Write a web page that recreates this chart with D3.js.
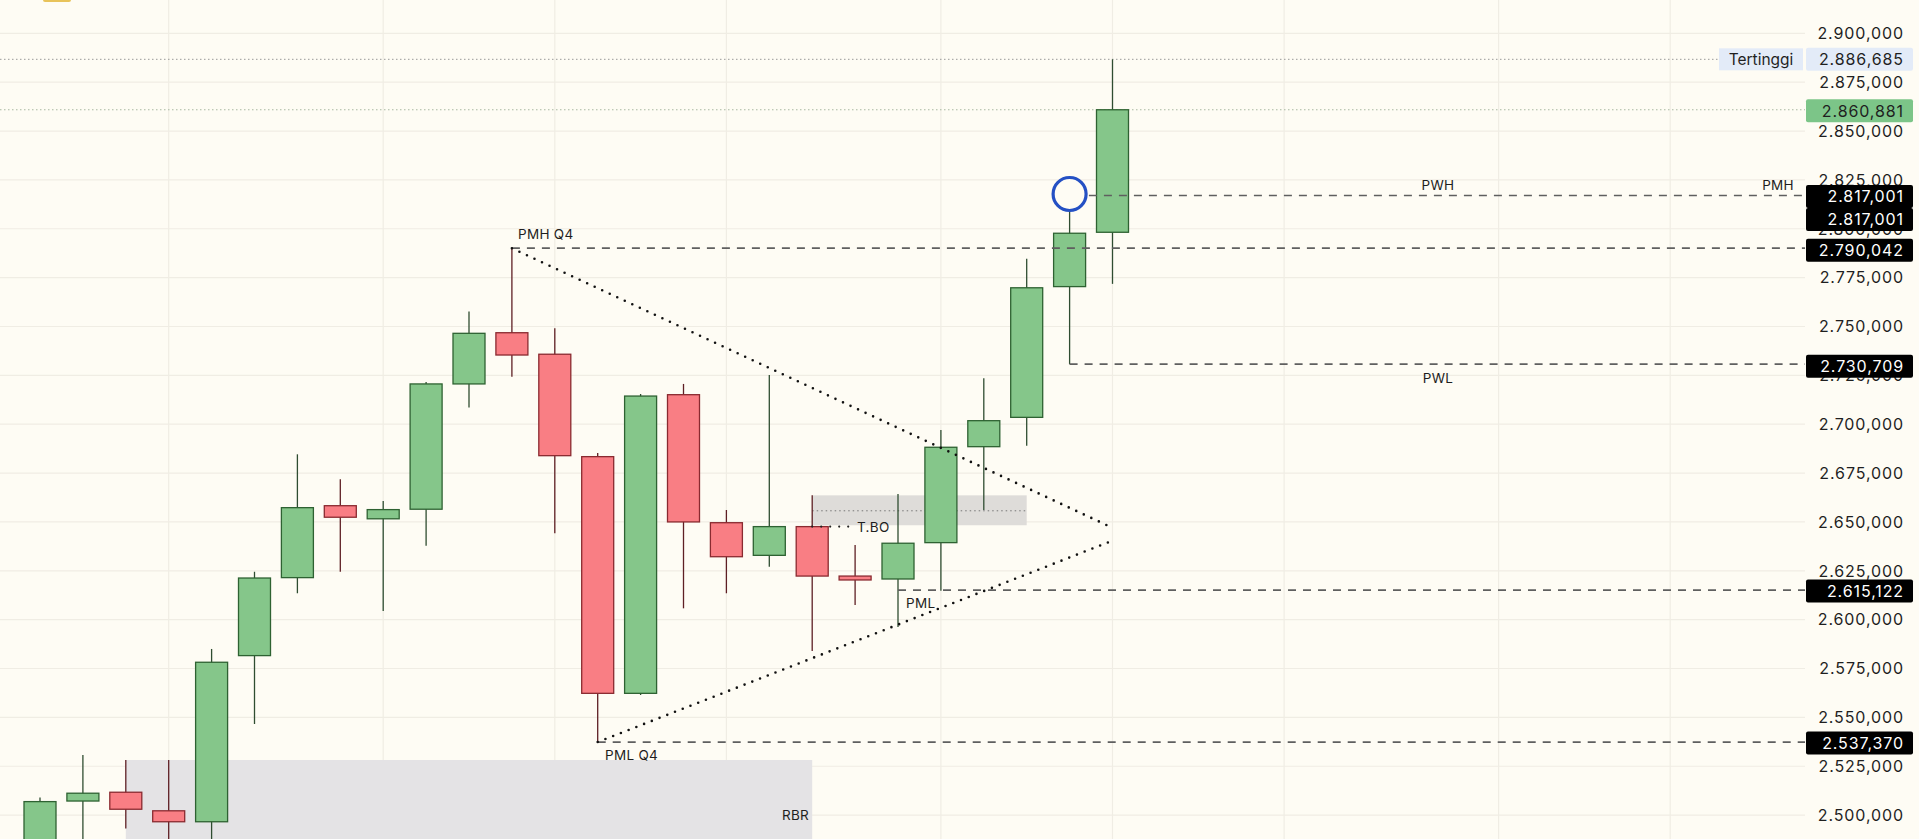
<!DOCTYPE html>
<html><head><meta charset="utf-8">
<script src="https://cdn.jsdelivr.net/npm/d3@7"></script>
<style>
html,body{margin:0;padding:0;background:#fefcf4;overflow:hidden}
svg{display:block}
text{font-family:Inter,"Noto Sans",sans-serif}
</style></head><body>
<svg id="c" width="1919" height="839"></svg>
<script>
// ---- data ----
const opens  = [2478,2507.2,2511.7,2502.2,2496.6,2581.6,2621.5,2658.3,2651.6,2656.5,2720.6,2746.8,2735.8,2683.4,2562.3,2715.1,2649.6,2632.9,2647.6,2622.3,2620.8,2639.4,2688.5,2703.5,2770.4,2798.2];
const highs  = [2509.0,2530.8,2528.2,2528.2,2585.0,2624.5,2684.6,2671.8,2660.7,2721.6,2757.6,2790.042,2749.1,2685.3,2715.5,2720.6,2656.1,2725.2,2663.6,2638.2,2664.3,2697.0,2723.5,2784.7,2817.001,2886.685];
const lows   = [2465,2475,2493.2,2478,2482,2546.6,2613.5,2624.5,2604.4,2637.8,2708.6,2724.3,2644.2,2537.37,2561.5,2605.8,2613.5,2627.1,2584.0,2607.5,2596.2,2614.8,2656.1,2689.0,2730.709,2771.8];
const closes = [2506.9,2511.2,2503.0,2496.6,2578.2,2621.3,2657.3,2652.4,2656.3,2720.6,2746.5,2735.4,2683.9,2562.3,2714.4,2650.0,2632.2,2647.6,2622.3,2620.3,2639.1,2688.2,2701.8,2769.8,2797.7,2860.881];
const tickValues = [2500,2525,2550,2575,2600,2625,2650,2675,2700,2725,2750,2775,2800,2825,2850,2875,2900];
const gridIdx = [3,8,12,16,21,25,29,34,38];
// dashed levels: [price, startIndex]
const levelPrices = [2790.042, 2817.001, 2730.709, 2615.122, 2537.370];
const levelStart  = [11, 24.45, 24, 20, 13];
const levelNames  = ["PMH Q4","PWH","PWL","PML","PML Q4"];
const highPrice = 2886.685, lastPrice = 2860.881;
// triangle lines: [i0,p0,i1,p1]
const triUpper = [11, 2790.042, 25, 2647.0];
const triLower = [13, 2537.370, 25, 2640.4];
// zones: [i0,i1,pTop,pBottom]
const zoneRBR = [2, 18, 2528.2, 2400];
const zoneTBO = [18, 23, 2663.6, 2648.3];
const tboMid = 2655.7, tboLevel = 2647.6;

// ---- scales ----
const W = 1919, H = 839, axisX = 1805;
const x = d3.scaleLinear().domain([0,25]).range([40,1112.5]);
const y = d3.scaleLinear().domain([2500,2900]).range([815.1,33.3]);
const loc = d3.formatLocale({decimal:",",thousands:".",grouping:[3],currency:["",""]});
const fmt = loc.format(",.3f");

const svg = d3.select("#c");
svg.append("rect").attr("width",W).attr("height",H).attr("fill","#fefcf4");

// grid
svg.append("g").selectAll("line").data(gridIdx).join("line")
  .attr("x1",d=>x(d)).attr("x2",d=>x(d)).attr("y1",0).attr("y2",H)
  .attr("stroke","#f0ede4").attr("stroke-width",1.2);
svg.append("g").selectAll("line").data(tickValues).join("line")
  .attr("x1",0).attr("x2",axisX).attr("y1",d=>y(d)).attr("y2",d=>y(d))
  .attr("stroke","#f0ede4").attr("stroke-width",1.2);

// zones
function zone(z, fill){
  svg.append("rect").attr("x",x(z[0])).attr("width",x(z[1])-x(z[0]))
    .attr("y",y(z[2])).attr("height",y(z[3])-y(z[2])).attr("fill",fill);
}
zone(zoneRBR,"#e4e3e5");
zone(zoneTBO,"#dedcd9");
svg.append("line").attr("x1",x(zoneTBO[0])).attr("x2",x(zoneTBO[1]))
  .attr("y1",y(tboMid)).attr("y2",y(tboMid))
  .attr("stroke","#777").attr("stroke-width",1).attr("stroke-dasharray","1.5,3");

// top dotted lines
svg.append("line").attr("x1",0).attr("x2",1719).attr("y1",y(highPrice)).attr("y2",y(highPrice))
  .attr("stroke","#9a9a9a").attr("stroke-width",1).attr("stroke-dasharray","1.5,2.5");
svg.append("line").attr("x1",0).attr("x2",axisX).attr("y1",y(lastPrice)).attr("y2",y(lastPrice))
  .attr("stroke","#a9b8a2").attr("stroke-width",1).attr("stroke-dasharray","1.5,2.5");

// candles
const idx = d3.range(opens.length);
const up = i => closes[i] >= opens[i];
const cg = svg.append("g");
cg.selectAll("line").data(idx).join("line")
  .attr("x1",i=>x(i)).attr("x2",i=>x(i)).attr("y1",i=>y(highs[i])).attr("y2",i=>y(lows[i]))
  .attr("stroke",i=>up(i)?"#2f4d31":"#5e1f24").attr("stroke-width",1.3);
cg.selectAll("rect").data(idx).join("rect")
  .attr("x",i=>x(i)-16).attr("width",32)
  .attr("y",i=>y(Math.max(opens[i],closes[i])))
  .attr("height",i=>Math.max(1.5,Math.abs(y(opens[i])-y(closes[i]))))
  .attr("fill",i=>up(i)?"#85c68a":"#f97e84")
  .attr("stroke",i=>up(i)?"#2e6232":"#8a2a30").attr("stroke-width",1.3);

// dashed levels
svg.append("g").selectAll("line").data(levelPrices).join("line")
  .attr("x1",(d,i)=>x(levelStart[i])).attr("x2",axisX)
  .attr("y1",d=>y(d)).attr("y2",d=>y(d))
  .attr("stroke","#5f5f5f").attr("stroke-width",1.7).attr("stroke-dasharray","8,7");

// triangle
function dotted(t){
  svg.append("line").attr("x1",x(t[0])).attr("y1",y(t[1])).attr("x2",x(t[2])).attr("y2",y(t[3]))
    .attr("stroke","#111").attr("stroke-width",2.6).attr("stroke-linecap","round").attr("stroke-dasharray","0,8.3");
}
dotted(triUpper); dotted(triLower);
// T.BO dotted
svg.append("line").attr("x1",x(18)).attr("x2",x(18)+40).attr("y1",y(tboLevel)).attr("y2",y(tboLevel))
  .attr("stroke","#222").attr("stroke-width",2.2).attr("stroke-linecap","round").attr("stroke-dasharray","0,9");

// blue circle
svg.append("circle").attr("cx",x(24)).attr("cy",y(2817.001)-1.5).attr("r",16.5)
  .attr("fill","#fefcf4").attr("stroke","#2450c4").attr("stroke-width",3.2);

// small gold mark top-left
svg.append("rect").attr("x",43).attr("y",-4).attr("width",28).attr("height",6).attr("rx",2).attr("fill","#e8c35a");

// text labels
const lab = svg.append("g").attr("font-size",13.5).attr("fill","#1e1e1e").attr("letter-spacing",0.3);
lab.append("text").attr("x",518).attr("y",y(levelPrices[0])-9).text(levelNames[0]);
lab.append("text").attr("x",1438).attr("y",y(levelPrices[1])-6).attr("text-anchor","middle").text(levelNames[1]);
lab.append("text").attr("x",1778).attr("y",y(levelPrices[1])-6).attr("text-anchor","middle").text("PMH");
lab.append("text").attr("x",1438).attr("y",y(levelPrices[2])+19).attr("text-anchor","middle").text(levelNames[2]);
lab.append("text").attr("x",906).attr("y",y(levelPrices[3])+18).text(levelNames[3]);
lab.append("text").attr("x",605).attr("y",y(levelPrices[4])+18).text(levelNames[4]);
lab.append("text").attr("x",857).attr("y",y(tboLevel)+5).text("T.BO");
lab.append("text").attr("x",809).attr("y",820).attr("text-anchor","end").text("RBR");

// axis area
svg.append("rect").attr("x",axisX).attr("y",0).attr("width",W-axisX).attr("height",H).attr("fill","#fefcf4");
const ax = svg.append("g").attr("font-size",16).attr("fill","#1f1f1f").attr("letter-spacing",0.9);
ax.selectAll("text").data(tickValues).join("text")
  .attr("x",1904).attr("y",d=>y(d)).attr("dy","0.36em").attr("text-anchor","end").text(d=>fmt(d));

// price boxes
function box(p, yc, bg, fg){
  svg.append("rect").attr("x",1806).attr("y",yc-11.5).attr("width",107).attr("height",23).attr("rx",2).attr("fill",bg);
  svg.append("text").attr("x",1904).attr("y",yc).attr("dy","0.36em").attr("text-anchor","end")
    .attr("font-size",16).attr("letter-spacing",0.9).attr("fill",fg).text(fmt(p));
}
svg.append("rect").attr("x",1719).attr("y",y(highPrice)-11).attr("width",84).attr("height",22).attr("fill","#e3ebf8");
svg.append("text").attr("x",1761).attr("y",y(highPrice)).attr("dy","0.36em").attr("text-anchor","middle")
  .attr("font-size",15.5).attr("fill","#1f1f1f").text("Tertinggi");
box(highPrice, y(highPrice), "#e3ebf8", "#1f1f1f");
box(lastPrice, y(lastPrice)+1, "#7cc588", "#1f1f1f");
box(levelPrices[1], y(levelPrices[1])+1, "#000", "#fff");
box(levelPrices[1], y(levelPrices[1])+24, "#000", "#fff");
box(levelPrices[0], y(levelPrices[0])+2, "#000", "#fff");
box(levelPrices[2], y(levelPrices[2])+2, "#000", "#fff");
box(levelPrices[3], y(levelPrices[3])+1, "#000", "#fff");
box(levelPrices[4], y(levelPrices[4])+1, "#000", "#fff");
</script></body></html>
